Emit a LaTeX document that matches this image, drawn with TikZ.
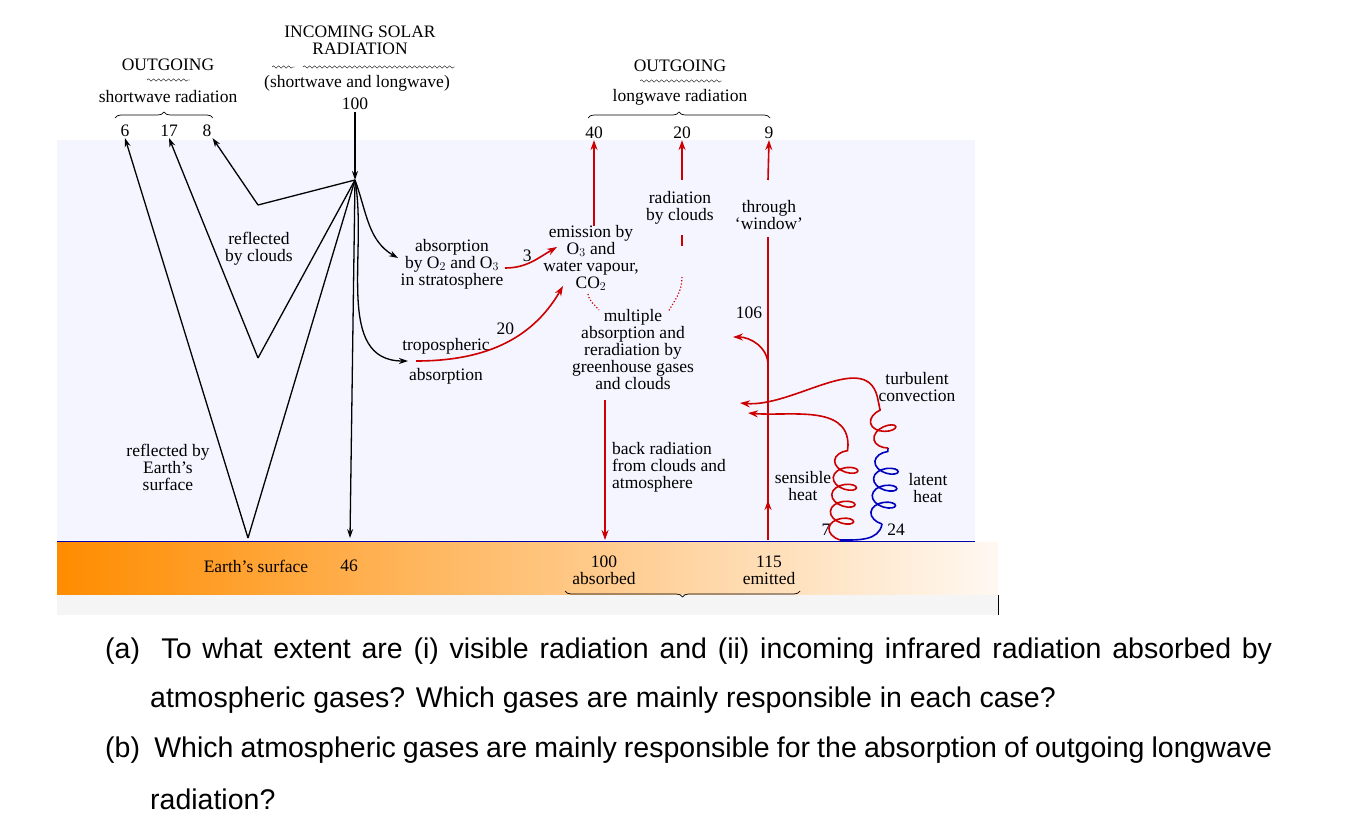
\documentclass[tikz,border=0pt]{standalone}
\usepackage{fontspec}
\setmainfont{Liberation Serif}
\newfontfamily\qfont{Liberation Sans}
\usetikzlibrary{arrows.meta,decorations.pathmorphing,decorations.pathreplacing}
\begin{document}
\begin{tikzpicture}[x=1pt,y=-1pt,
  lbl/.style={font=\fontsize{17.5}{17}\selectfont,align=center,inner sep=1pt},
  blk/.style={black,line width=1.3pt,-{Stealth[length=9pt,width=6pt]}},
  blkline/.style={black,line width=1.3pt},
  redar/.style={red!80!black,line width=1.6pt,-{Stealth[length=10pt,width=7pt]}},
  redline/.style={red!80!black,line width=1.6pt},
  qtxt/.style={font=\qfont\fontsize{28.5}{30}\selectfont,anchor=west,inner sep=0pt},
  brc/.style={decorate,decoration={brace,amplitude=6pt},line width=0.7pt}]
\useasboundingbox (0,0) rectangle (1348,837);
\fill[white] (0,0) rectangle (1348,837);
\fill[blue!4] (57,140) rectangle (975,540);
\shade[left color=orange!90!yellow,right color=orange!5] (57,542) rectangle (998,595);
\fill[gray!8] (57,595) rectangle (998,615);
\draw[blue!70!black,line width=1pt] (57,541) -- (975,541);
% top labels
\node[lbl] (inc) at (360,40) {INCOMING SOLAR\\RADIATION};
\node[lbl] (sw) at (357,83) {(shortwave and longwave)};
\node[lbl] (n100) at (355,104) {100};
\node[lbl] (osw) at (168,65) {OUTGOING};
\node[lbl] (swr) at (168,97) {shortwave radiation};
\draw[decorate,decoration={snake,amplitude=1.2pt,segment length=5pt}] (147,80)--(190,80);
\draw[decorate,decoration={snake,amplitude=1.2pt,segment length=5pt}] (272,67)--(295,67);
\draw[decorate,decoration={snake,amplitude=1.2pt,segment length=5pt}] (303,67)--(455,67);
\node[lbl] (s6) at (125,131) {6};
\node[lbl] (s17) at (169,131) {17};
\node[lbl] (s8) at (207,131) {8};
\draw[brc] (115,118) -- (213,118);
\node[lbl] (olw) at (680,66) {OUTGOING};
\node[lbl] (lwr) at (680,97) {longwave radiation};
\draw[decorate,decoration={snake,amplitude=1.2pt,segment length=5pt}] (640,81)--(722,81);
\draw[brc] (588,118) -- (770,118);
\node[lbl] (l40) at (594,133) {40};
\node[lbl] (l20) at (682,133) {20};
\node[lbl] (l9) at (769,133) {9};
% shortwave
\coordinate (top) at (355,112);
\coordinate (hit) at (355,180);
\draw[blk] (top) -- (hit);
\draw[blk] (hit) -- (350,538);
\node[lbl] (n46) at (349,566) {46};
\coordinate (c1) at (258,205);
\coordinate (c2) at (258,358);
\coordinate (c3) at (248,538);
\draw[blkline] (hit) -- (c1); \draw[blk] (c1) -- (s8.south east);
\draw[blkline] (hit) -- (c2); \draw[blk] (c2) -- (s17.south);
\draw[blkline] (hit) -- (c3); \draw[blk] (c3) -- (s6.south);
\node[lbl,fill=blue!4] (rbc) at (259,249) {reflected\\by clouds};
\node[lbl] (res) at (168,467) {reflected by\\Earth's\\surface};
\node[lbl] (es) at (256,566) {Earth's surface};
% absorption
\node[lbl] (strat) at (452,264) {absorption\\by O$_2$ and O$_3$\\in stratosphere};
\node[lbl] (trop) at (446,346) {tropospheric};
\node[lbl] (trop2) at (446,376) {absorption};
\draw[blk] (hit) to[out=-70,in=150] (398,258);
\draw[blk] (hit) to[out=-80,in=180] (408,361);
\node[lbl] (emi) at (591,258) {emission by\\O$_3$ and\\water vapour,\\CO$_2$};
\draw[redar] (505,268) to[out=0,in=-150] node[above,lbl,black,pos=0.4]{3} (557,247);
\draw[redar] (416,361) to[out=0,in=-120] node[above left,lbl,black,pos=0.6]{20} (563,286);
\node[lbl] (mult) at (633,350) {multiple\\absorption and\\reradiation by\\greenhouse gases\\and clouds};
\draw[red!80!black,dotted,line width=1.2pt] (588,294) to[out=-80,in=130] (599,310);
\draw[red!80!black,dotted,line width=1.2pt] (682,277) to[out=-90,in=60] (668,312);
\draw[redar] (594,226) -- (l40.south);
\node[lbl] (rbcl) at (680,208) {radiation\\by clouds};
\draw[redar] (682,180) -- (l20.south);
\draw[redline] (682,235) -- (682,246);
\node[lbl] (win) at (769,215) {through\\`window'};
\draw[redar] (768,180) -- (l9.south);
\draw[redline] (768,237) -- (768,540);
\draw[redar] (768,525) -- (768,500);
\node[lbl] (n106) at (749,313) {106};
\draw[redar] (768,365) to[out=90,in=0] (733,337);
\node[lbl,align=left] (back) at (669,467) {back radiation\\from clouds and\\atmosphere};
\draw[redar] (605,400) -- (605,540);
\node[lbl] (abs) at (604,570) {100\\absorbed};
\node[lbl] (emt) at (769,570) {115\\emitted};
\draw[brc] (800,591) -- (565,591);
% convection
\node[lbl] (sens) at (803,486) {sensible\\heat};
\node[lbl] (lat) at (928,488) {latent\\heat};
\node[lbl] (turb) at (917,387) {turbulent\\convection};
\node[lbl] (n7) at (826,530) {7};
\node[lbl] (n24) at (896,530) {24};
\draw[redline,decorate,decoration={coil,aspect=0.55,amplitude=12pt,segment length=17pt}] (840,540) -- (848,445);
\draw[redar] (848,445) to[out=90,in=-5] (748,413);
\draw[blue!75!black,line width=1.6pt] (840,540) to[out=0,in=-100] (882,524);
\draw[blue!75!black,line width=1.6pt,decorate,decoration={coil,aspect=0.55,amplitude=12pt,segment length=17pt}] (882,524) -- (888,448);
\draw[redline,decorate,decoration={coil,aspect=0.55,amplitude=12pt,segment length=17pt}] (888,448) -- (878,400);
\draw[redar] (878,400) to[out=100,in=-5] (740,403);
\draw[line width=1pt] (998,595) -- (998,615);
% questions
\node[qtxt] (qa1) at (105,651) {\makebox[1167pt][s]{(a)\ \ To what extent are (i) visible radiation and (ii) incoming infrared radiation absorbed by}};
\node[qtxt] (qa2) at (150,700) {atmospheric gases? Which gases are mainly responsible in each case?};
\node[qtxt] (qb1) at (105,750) {\makebox[1167pt][s]{(b)\ \ Which atmospheric gases are mainly responsible for the absorption of outgoing longwave}};
\node[qtxt] (qb2) at (150,799) {radiation?};
\end{tikzpicture}
\end{document}
